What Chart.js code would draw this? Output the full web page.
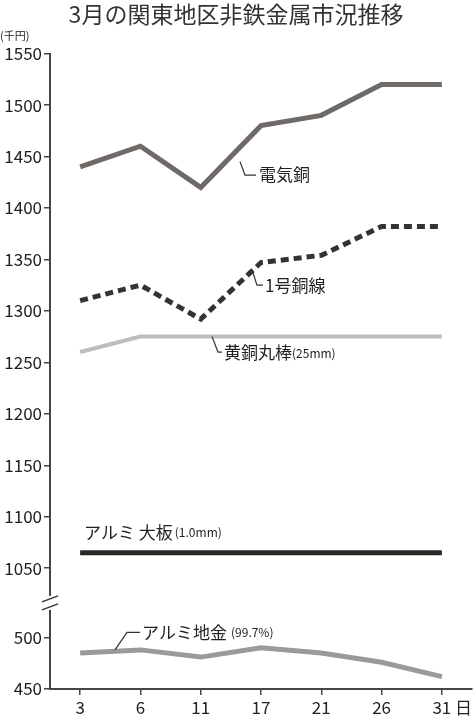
<!DOCTYPE html>
<html><head><meta charset="utf-8">
<script src="https://cdn.jsdelivr.net/npm/chart.js@4"></script>
<style>body{margin:0;background:#fff}#wrap{width:474px;height:719px;position:relative}</style>
</head><body><div id="wrap"><canvas id="c"></canvas></div>
<script>
const days = ['3', '6', '11', '17', '21', '26', '31'];
const denkido = [1440, 1460, 1420, 1480, 1490, 1520, 1520];
const dosen = [1310, 1325, 1292, 1347, 1354, 1382, 1382];
const odoBar = [1260, 1275, 1275, 1275, 1275, 1275, 1275];
const aluPlate = [1065, 1065, 1065, 1065, 1065, 1065, 1065];
const aluIngot = [485, 488, 481, 490, 485, 476, 462];
const upperTicks = [1050, 1100, 1150, 1200, 1250, 1300, 1350, 1400, 1450, 1500, 1550];
const lowerTicks = [450, 500];

// lower segment is shifted up so it sits below the axis break
const SHIFT = 482.6;
const lowerShifted = aluIngot.map(v => v + SHIFT);
const FONT = '"Liberation Sans Narrow", "Noto Sans CJK JP", sans-serif';

const labelsPlugin = {
  id: 'labels',
  afterDraw(chart) {
    const { ctx } = chart;
    const x = chart.scales.x, y = chart.scales.y;
    const py = v => y.getPixelForValue(v);
    ctx.save();
    // axis break
    const yb = (py(1050) + py(500 + SHIFT)) / 2;
    ctx.fillStyle = '#fff';
    ctx.fillRect(44, yb - 7, 12, 14);
    ctx.strokeStyle = '#333'; ctx.lineWidth = 1.5;
    [-4, 4].forEach(d => {
      ctx.beginPath(); ctx.moveTo(42, yb + d + 3); ctx.lineTo(58, yb + d - 3); ctx.stroke();
    });
    ctx.fillStyle = '#222';
    ctx.textBaseline = 'middle';
    ctx.lineWidth = 1.2;
    const lead = (pts) => { ctx.beginPath(); ctx.moveTo(pts[0][0], pts[0][1]); pts.slice(1).forEach(p => ctx.lineTo(p[0], p[1])); ctx.stroke(); };
    const txt = (s, xx, yy, size) => { ctx.font = size + 'px ' + FONT; ctx.fillText(s, xx, yy); return ctx.measureText(s).width; };
    lead([[240, py(1445)], [245, py(1432)], [256, py(1432)]]);
    txt('電気銅', 259, py(1432), 17);
    lead([[252, py(1340)], [257, py(1325)], [263, py(1325)]]);
    txt('1号銅線', 265, py(1325), 17);
    lead([[212, py(1275)], [218, py(1260)], [222, py(1260)]]);
    let w = txt('黄銅丸棒', 224, py(1260), 17);
    txt('(25mm)', 224 + w, py(1259), 12);
    w = txt('アルミ 大板', 84, py(1085), 17);
    txt('(1.0mm)', 86 + w, py(1085), 12);
    lead([[115, py(488 + SHIFT)], [127, py(505 + SHIFT)], [140, py(505 + SHIFT)]]);
    w = txt('アルミ地金', 142, py(505 + SHIFT), 17);
    txt('(99.7%)', 146 + w, py(505 + SHIFT), 12);
    txt('(千円)', 0, 36, 11);
    ctx.font = '17px ' + FONT;
    ctx.fillText('日', 455, 708);
    ctx.restore();
  }
};

const line = (data, color, width, dash) => ({
  data, borderColor: color, borderWidth: width, borderDash: dash || [],
  pointRadius: 0, tension: 0, fill: false
});

new Chart(document.getElementById('c'), {
  type: 'line',
  data: {
    labels: days,
    datasets: [
      line(denkido, '#6f6a67', 5),
      line(dosen, '#333', 5, [8, 5]),
      line(odoBar, '#bdbdbd', 4),
      line(aluPlate, '#2a2723', 5),
      line(lowerShifted, '#9a9a9a', 5)
    ]
  },
  options: {
    responsive: true, maintainAspectRatio: false, animation: false,
    layout: { padding: { top: 0, right: 2, left: 0, bottom: 0 } },
    plugins: {
      legend: { display: false }, tooltip: { enabled: false },
      title: { display: true, text: '3月の関東地区非鉄金属市況推移', color: '#333',
        font: { family: FONT, size: 23, weight: 'normal' }, padding: { top: 0, bottom: 26 } }
    },
    scales: {
      x: {
        offset: true,
        grid: { display: true, drawOnChartArea: false, tickLength: 6, color: '#444', lineWidth: 1.5 },
        border: { color: '#444', width: 2 },
        ticks: { color: '#222', font: { family: FONT, size: 17 }, padding: 2 },
        afterFit(s) { s.height = 30; }
      },
      y: {
        min: 450 + SHIFT, max: 1550,
        afterBuildTicks(s) { s.ticks = lowerTicks.map(v => ({ value: v + SHIFT })).concat(upperTicks.map(v => ({ value: v }))); },
        grid: { display: true, drawOnChartArea: false, tickLength: 6, color: '#444', lineWidth: 1.5 },
        border: { color: '#444', width: 2 },
        ticks: { color: '#222', font: { family: FONT, size: 17 }, padding: 2,
          callback: v => v < 1000 ? Math.round(v - SHIFT) : v },
        afterFit(s) { s.width = 50; }
      }
    }
  },
  plugins: [labelsPlugin]
});
</script></body></html>
